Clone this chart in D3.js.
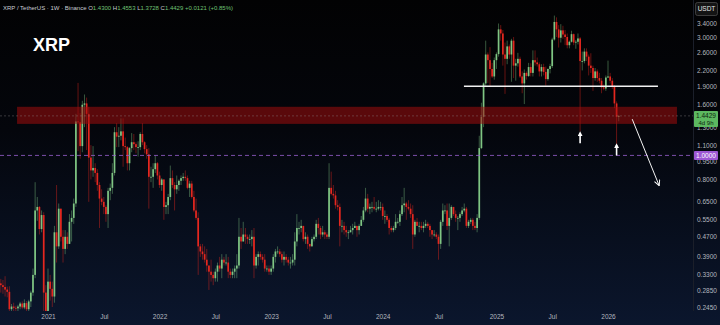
<!DOCTYPE html>
<html>
<head>
<meta charset="utf-8">
<script src="https://cdn.jsdelivr.net/npm/d3@7"></script>
<style>
  body { margin: 0; background: #030405; overflow: hidden; }
  svg { display: block; }
  text { font-family: 'Liberation Sans', Arial, sans-serif; }
</style>
</head>
<body>
<div id="chart"></div>
<script>
// XRP / TetherUS weekly candles, first candle = week of 2020-08-03
// open of each week = close of the week before
var firstWeek = '2020-08-03';
var firstOpen = 0.305;

var closes = [
  // 2020
  .300,.295,.288,.282,.240,.246,.243,.242,.246,.253,.244,.254,.240,.258,.280,.330,.600,.620,.505,.575,.280,.225,
  // 2021
  .310,.290,.270,.490,.430,.610,.470,.420,.470,.440,.540,.560,.640,1.37,1.36,1.09,1.60,1.62,1.47,.980,.870,.890,.850,.760,.670,.650,
  .620,.580,.720,.740,.850,1.24,1.19,1.20,1.25,1.09,1.08,.930,1.07,1.13,1.11,1.08,1.08,1.22,1.13,1.06,1.01,.820,.820,.880,.930,.830,
  // 2022
  .760,.800,.620,.630,.680,.810,.760,.730,.760,.790,.810,.820,.810,.740,.770,.680,.600,.560,.430,.410,.400,.380,.360,.340,.330,.320,
  .340,.360,.350,.380,.370,.370,.340,.330,.340,.350,.360,.470,.450,.480,.470,.460,.460,.470,.360,.390,.400,.390,.380,.350,.350,.340,
  // 2023
  .350,.390,.410,.410,.400,.380,.390,.380,.370,.370,.380,.450,.510,.510,.520,.460,.470,.440,.430,.460,.470,.530,.510,.480,.490,.480,
  .470,.740,.700,.690,.630,.620,.520,.520,.500,.490,.490,.500,.510,.520,.500,.520,.550,.600,.670,.610,.620,.620,.610,.610,.620,.620,
  // 2024
  .570,.570,.550,.510,.500,.510,.540,.540,.580,.630,.640,.620,.610,.580,.480,.540,.520,.520,.510,.520,.530,.520,.500,.480,.480,.470,
  .440,.540,.600,.600,.520,.560,.620,.580,.560,.560,.580,.600,.610,.520,.540,.550,.520,.510,.560,1.07,1.43,1.95,2.55,2.42,2.23,2.08,
  // 2025
  2.42,2.56,3.22,3.10,2.55,2.45,2.75,2.55,2.90,2.30,2.35,2.45,2.08,1.95,2.15,2.09,2.27,2.15,2.42,2.37,2.33,2.18,2.27,2.17,2.03,2.23,
  2.29,2.93,3.45,3.22,2.98,3.19,3.07,3.00,2.78,2.87,3.08,2.85,2.87,2.96,2.40,2.40,2.62,2.50,2.30,2.25,2.05,2.18,2.05,2.00,1.88,1.86,2.06,
  // 2026
  2.08,2.00,1.90,1.62,1.43,1.4429
];

var highs = [
  .318,.315,.326,.296,.297,.252,.255,.248,.250,.257,.258,.263,.259,.262,.285,.350,.780,.680,.625,.600,.590,.300,
  .350,.330,.310,.520,.760,.640,.610,.500,.500,.490,.580,.600,.670,1.47,1.96,1.48,1.66,1.76,1.71,1.57,1.10,1.09,.930,.880,.780,.730,
  .680,.630,.740,.770,.930,1.30,1.35,1.30,1.41,1.41,1.18,1.09,1.08,1.23,1.22,1.13,1.14,1.24,1.35,1.14,1.10,1.07,.900,.930,1.00,.940,
  .860,.810,.800,.650,.700,.910,.870,.780,.830,.800,.830,.850,.870,.830,.790,.790,.720,.670,.590,.440,.440,.430,.420,.360,.380,.340,
  .350,.370,.390,.400,.390,.400,.390,.350,.350,.360,.400,.560,.510,.540,.510,.480,.480,.500,.510,.400,.410,.410,.400,.400,.360,.360,
  .360,.400,.420,.430,.420,.410,.410,.400,.390,.390,.400,.490,.580,.540,.550,.520,.490,.480,.440,.470,.480,.550,.560,.520,.520,.500,
  .490,.930,.860,.760,.720,.660,.640,.550,.540,.520,.500,.520,.530,.540,.520,.530,.570,.620,.740,.700,.640,.650,.680,.650,.660,.650,
  .640,.600,.580,.560,.520,.520,.580,.560,.600,.680,.740,.650,.660,.640,.630,.550,.560,.540,.540,.540,.550,.540,.530,.500,.500,.490,
  .480,.550,.640,.630,.640,.640,.630,.620,.600,.570,.590,.620,.640,.620,.550,.560,.560,.540,.580,1.20,1.63,1.97,2.90,2.60,2.73,2.36,
  2.48,2.60,3.40,3.35,3.20,2.85,2.90,2.80,2.95,3.00,2.45,2.59,2.50,2.18,2.22,2.18,2.36,2.35,2.65,2.65,2.48,2.37,2.33,2.34,2.28,2.24,
  2.34,2.98,3.66,3.60,3.35,3.38,3.33,3.20,3.10,2.90,3.18,3.10,2.92,3.10,3.00,2.62,2.70,2.70,2.55,2.58,2.30,2.25,2.22,2.15,2.05,1.93,2.10,
  2.41,2.15,2.05,1.92,1.65,1.4553
];

var lows = [
  .280,.277,.270,.268,.225,.227,.235,.224,.236,.240,.240,.240,.232,.232,.245,.272,.320,.545,.480,.490,.210,.170,
  .210,.260,.245,.255,.370,.420,.450,.370,.400,.420,.440,.450,.530,.620,1.04,.970,1.03,1.30,1.05,.650,.800,.820,.780,.720,.510,.630,
  .580,.540,.510,.660,.700,.830,1.08,1.08,1.15,.900,1.05,.870,.870,1.03,1.05,1.02,.990,1.05,1.10,1.02,.970,.610,.780,.740,.850,.800,
  .740,.720,.550,.580,.580,.660,.740,.600,.700,.720,.760,.790,.790,.730,.680,.670,.590,.550,.330,.390,.380,.370,.340,.287,.310,.300,
  .310,.310,.340,.320,.360,.360,.320,.320,.320,.320,.320,.350,.420,.450,.440,.440,.440,.430,.320,.350,.360,.380,.370,.340,.340,.330,
  .330,.340,.370,.400,.390,.370,.360,.370,.360,.350,.360,.360,.430,.480,.490,.450,.440,.420,.410,.430,.450,.460,.480,.460,.470,.460,
  .460,.460,.690,.670,.610,.600,.430,.490,.480,.470,.460,.490,.480,.510,.470,.480,.520,.540,.590,.590,.580,.590,.600,.590,.600,.600,
  .550,.530,.540,.480,.490,.490,.500,.530,.520,.570,.590,.550,.600,.560,.420,.470,.520,.490,.500,.490,.510,.510,.470,.460,.470,.460,
  .380,.420,.520,.580,.500,.430,.550,.570,.540,.500,.540,.570,.590,.510,.510,.530,.500,.500,.490,.550,1.06,1.30,1.90,1.96,1.90,2.05,
  2.02,2.23,2.50,2.90,2.30,1.77,2.33,2.45,1.98,2.05,2.00,2.28,2.05,1.78,1.61,2.02,2.07,2.08,2.08,2.30,2.28,2.08,2.08,2.10,1.91,2.00,
  2.14,2.25,2.90,3.00,2.72,2.85,2.95,2.78,2.70,2.70,2.85,2.78,2.69,2.80,1.25,2.20,2.35,2.40,2.10,2.15,1.82,2.00,1.98,1.95,1.78,1.83,1.82,
  2.05,1.95,1.85,1.55,1.11,1.3728
];

// right axis and time axis labels
var priceTicks = [3.4, 3.0, 2.6, 2.2, 1.9, 1.6, 1.3, 1.1, 0.95, 0.8, 0.65, 0.55, 0.47, 0.39, 0.33, 0.285, 0.245];
var timeTicks = ['2021-01-04','2021-07-05','2022-01-03','2022-07-04','2023-01-02','2023-07-03',
                 '2024-01-01','2024-07-01','2025-01-06','2025-07-07','2026-01-05'];
var timeLabels = ['2021','Jul','2022','Jul','2023','Jul','2024','Jul','2025','Jul','2026'];

// drawings on the chart
var zoneDates = ['2020-09-25', '2026-08-18'];
var zonePrices = [1.34, 1.57];
var resistDates = ['2024-09-22', '2026-06-17'];
var resistPrice = 1.9;
var supportPrice = 1.0;
var lastPrice = 1.4429;
var upArrowDates = ['2025-10-06', '2026-02-02'];
var upArrowFrom = [1.12, 1.00];
var upArrowTo = [1.23, 1.10];
var downArrowDates = ['2026-03-25', '2026-06-21'];
var downArrowPrices = [1.40, 0.755];

var svgWidth = 720;
var svgHeight = 325;
var plotRight = 693;
var plotBottom = 311;

var green = '#7fc583';
var red = '#e5271f';

var parse = d3.utcParse('%Y-%m-%d');

var x = d3.scaleUtc()
    .domain([parse('2021-01-04'), parse('2026-01-05')])
    .range([48, 608]);

var y = d3.scaleLog()
    .domain([0.245, 3.0])
    .range([307, 37]);

var start = parse(firstWeek);
var candles = closes.map(function(c, i) {
    return {
        date: d3.utcDay.offset(start, i * 7),
        open: i ? closes[i - 1] : firstOpen,
        high: highs[i],
        low: lows[i],
        close: c
    };
});

var svg = d3.select('#chart')
    .append('svg')
    .attr('width', svgWidth)
    .attr('height', svgHeight);

var defs = svg.append('defs');
var bg = defs.append('linearGradient')
    .attr('id', 'bg')
    .attr('x1', 0).attr('y1', 0).attr('x2', 0).attr('y2', 1);
bg.append('stop').attr('offset', '0%').attr('stop-color', '#020203');
bg.append('stop').attr('offset', '40%').attr('stop-color', '#04060c');
bg.append('stop').attr('offset', '100%').attr('stop-color', '#0b162d');

defs.append('clipPath').attr('id', 'plot')
    .append('rect')
    .attr('width', plotRight)
    .attr('height', plotBottom);

defs.append('marker')
    .attr('id', 'openHead')
    .attr('viewBox', '0 0 10 10')
    .attr('refX', 9).attr('refY', 5)
    .attr('markerWidth', 7).attr('markerHeight', 7)
    .attr('orient', 'auto')
    .append('path')
    .attr('d', 'M1,1 L9,5 L1,9')
    .attr('fill', 'none')
    .attr('stroke', '#fff')
    .attr('stroke-width', 1.4);

defs.append('marker')
    .attr('id', 'solidHead')
    .attr('viewBox', '0 0 10 10')
    .attr('refX', 6).attr('refY', 5)
    .attr('markerWidth', 3).attr('markerHeight', 3)
    .attr('orient', 'auto')
    .append('path')
    .attr('d', 'M0,0 L10,5 L0,10 Z')
    .attr('fill', '#fff');

svg.append('rect')
    .attr('width', svgWidth)
    .attr('height', svgHeight)
    .attr('fill', 'url(#bg)');

var plot = svg.append('g').attr('clip-path', 'url(#plot)');

// candles
var candleGroup = plot.append('g');
candleGroup.selectAll('line')
    .data(candles)
    .enter()
    .append('line')
    .attr('x1', d => x(d.date))
    .attr('x2', d => x(d.date))
    .attr('y1', d => y(d.high))
    .attr('y2', d => y(d.low))
    .attr('stroke', d => d.close >= d.open ? green : red)
    .attr('stroke-opacity', 0.55)
    .attr('stroke-width', 0.8);

candleGroup.selectAll('rect')
    .data(candles)
    .enter()
    .append('rect')
    .attr('x', d => x(d.date) - 0.85)
    .attr('width', 1.7)
    .attr('y', d => y(Math.max(d.open, d.close)))
    .attr('height', d => Math.max(0.8, Math.abs(y(d.open) - y(d.close))))
    .attr('fill', d => d.close >= d.open ? green : red);

// red resistance zone
plot.append('rect')
    .attr('x', x(parse(zoneDates[0])))
    .attr('width', x(parse(zoneDates[1])) - x(parse(zoneDates[0])))
    .attr('y', y(zonePrices[1]))
    .attr('height', y(zonePrices[0]) - y(zonePrices[1]))
    .attr('fill', '#a30d0d')
    .attr('fill-opacity', 0.55);

// last price line
plot.append('line')
    .attr('x1', 0).attr('x2', plotRight)
    .attr('y1', y(lastPrice)).attr('y2', y(lastPrice))
    .attr('stroke', '#8c8c8c')
    .attr('stroke-opacity', 0.55)
    .attr('stroke-width', 0.7)
    .attr('stroke-dasharray', '2,2');

// support line at 1.0
plot.append('line')
    .attr('x1', 0).attr('x2', plotRight)
    .attr('y1', y(supportPrice)).attr('y2', y(supportPrice))
    .attr('stroke', '#9a5fd0')
    .attr('stroke-width', 0.8)
    .attr('stroke-dasharray', '4,3');

// white level line
plot.append('line')
    .attr('x1', x(parse(resistDates[0])))
    .attr('x2', x(parse(resistDates[1])))
    .attr('y1', y(resistPrice)).attr('y2', y(resistPrice))
    .attr('stroke', '#f2f2f2')
    .attr('stroke-width', 1.5);

// arrows
upArrowDates.forEach(function(d, i) {
    plot.append('line')
        .attr('x1', x(parse(d))).attr('x2', x(parse(d)))
        .attr('y1', y(upArrowFrom[i])).attr('y2', y(upArrowTo[i]))
        .attr('stroke', '#fff')
        .attr('stroke-width', 1.6)
        .attr('marker-end', 'url(#solidHead)');
});

plot.append('line')
    .attr('x1', x(parse(downArrowDates[0])))
    .attr('y1', y(downArrowPrices[0]))
    .attr('x2', x(parse(downArrowDates[1])))
    .attr('y2', y(downArrowPrices[1]))
    .attr('stroke', '#f4f4f4')
    .attr('stroke-width', 1)
    .attr('marker-end', 'url(#openHead)');

// price axis
var yAxis = d3.axisRight(y)
    .tickValues(priceTicks)
    .tickSize(0)
    .tickPadding(4)
    .tickFormat(d3.format('.4f'));

var yAxisGroup = svg.append('g')
    .attr('transform', `translate(${plotRight},0)`)
    .call(yAxis);
yAxisGroup.select('.domain').remove();
yAxisGroup.selectAll('text')
    .attr('fill', '#b4b7bf')
    .style('font-size', '6.5px');

svg.append('line')
    .attr('x1', plotRight + 0.5).attr('x2', plotRight + 0.5)
    .attr('y1', 0).attr('y2', plotBottom)
    .attr('stroke', '#1b1f2a');

// time axis
var xAxis = d3.axisBottom(x)
    .tickValues(timeTicks.map(parse))
    .tickSize(0)
    .tickPadding(3)
    .tickFormat((d, i) => timeLabels[i]);

var xAxisGroup = svg.append('g')
    .attr('transform', `translate(0,${plotBottom})`)
    .call(xAxis);
xAxisGroup.select('.domain').remove();
xAxisGroup.selectAll('text')
    .attr('fill', '#b4b7bf')
    .style('font-size', '6.5px');

// last price label (covers the 1.3000 tick like the original)
var lp = svg.append('g').attr('transform', `translate(694,${y(lastPrice)})`);
lp.append('rect')
    .attr('x', 0).attr('y', -5)
    .attr('width', 24).attr('height', 16)
    .attr('rx', 1)
    .attr('fill', '#5cb860');
lp.append('text')
    .attr('x', 12).attr('y', 2.3)
    .attr('text-anchor', 'middle')
    .attr('fill', '#0e260f')
    .style('font-size', '6.5px')
    .text(d3.format('.4f')(lastPrice));
lp.append('text')
    .attr('x', 12).attr('y', 9)
    .attr('text-anchor', 'middle')
    .attr('fill', '#0e260f')
    .style('font-size', '6px')
    .text('4d 9h');

// support price label
var sp = svg.append('g').attr('transform', `translate(694,${y(supportPrice)})`);
sp.append('rect')
    .attr('x', 0).attr('y', -4.5)
    .attr('width', 24).attr('height', 9)
    .attr('rx', 1)
    .attr('fill', '#9d57d3');
sp.append('text')
    .attr('x', 12).attr('y', 2.3)
    .attr('text-anchor', 'middle')
    .attr('fill', '#ffffff')
    .style('font-size', '6.5px')
    .text(d3.format('.4f')(supportPrice));

// currency button
svg.append('rect')
    .attr('x', 695.5).attr('y', 2.5)
    .attr('width', 22).attr('height', 13)
    .attr('rx', 2)
    .attr('fill', '#141414')
    .attr('stroke', '#4a4a4a')
    .attr('stroke-width', 0.8);
svg.append('text')
    .attr('x', 706.5).attr('y', 11.3)
    .attr('text-anchor', 'middle')
    .attr('fill', '#e6e6e6')
    .style('font-size', '6.5px')
    .text('USDT');

// header line
var header = svg.append('text')
    .attr('x', 3)
    .attr('y', 10)
    .style('font-size', '6px')
    .attr('fill', '#c9ccd3');
header.append('tspan').text('XRP / TetherUS · 1W · Binance  ');
[['O', '1.4300'], ['H', '1.4553'], ['L', '1.3728'], ['C', '1.4429']].forEach(function(p) {
    header.append('tspan').text(' ' + p[0]);
    header.append('tspan').attr('fill', '#6fc173').text(p[1]);
});
header.append('tspan').attr('fill', '#6fc173').text('  +0.0121 (+0.85%)');

// title
svg.append('text')
    .attr('x', 33)
    .attr('y', 51)
    .attr('fill', '#ffffff')
    .style('font-size', '18px')
    .style('font-weight', 'bold')
    .text('XRP');
</script>
</body>
</html>
